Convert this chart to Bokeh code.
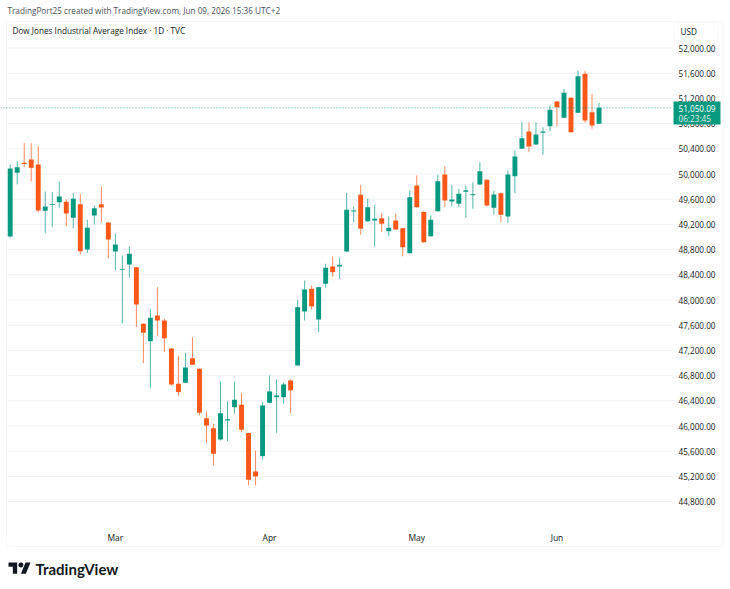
import math
import pandas as pd
from bokeh.plotting import figure
from bokeh.models import (Range1d, LinearAxis, FixedTicker, NumeralTickFormatter,
                          Label, BoxAnnotation, PolyAnnotation, ColumnDataSource)
from bokeh.embed import file_html
from bokeh.resources import INLINE

# ---- daily bars, Dow Jones Industrial Average (TVC) ----
holidays = ["2026-02-16", "2026-04-03", "2026-05-25"]
dates = [d.strftime("%Y-%m-%d") for d in
         pd.bdate_range("2026-02-06", "2026-06-09", freq="C", holidays=holidays)]

opens = [49008, 50019, 50178, 50230, 50151, 49416, 49508, 49553, 49559, 49305,
         49521, 48802, 49342, 49521, 49231, 48770, 48477, 48564, 48521, 47623,
         47347, 47755, 47675, 47231, 46671, 46687, 47077, 46909, 46125, 45966,
         45787, 46088, 46299, 46338, 45887, 45279, 45522, 46369, 46458, 46458,
         46723, 46961, 47818, 48178, 47691, 48258, 48532, 48532, 48770, 49405,
         49670, 49251, 49262, 49299, 49093, 49262, 49140, 48743, 49818, 49397,
         49012, 49410, 49992, 49564, 49527, 49718, 49664, 49834, 49908, 49464,
         49696, 49326, 49965, 50400, 50675, 50469, 50654, 50759, 51151, 50892,
         51210, 50972, 51591, 50981, 50797]
highs = [50151, 50204, 50496, 50489, 50442, 49723, 49712, 49881, 49596, 49696,
         49686, 49274, 49500, 49802, 49240, 49051, 48707, 48850, 48530, 47630,
         47861, 48204, 47702, 47240, 47109, 47163, 47410, 46915, 46231, 46036,
         46707, 46390, 46707, 46528, 45895, 45612, 46379, 46803, 46739, 46687,
         46739, 48004, 48310, 48231, 48210, 48575, 48691, 48670, 49702, 49485,
         49829, 49607, 49512, 49378, 49326, 49369, 49145, 49739, 49977, 49420,
         49342, 49992, 50124, 49829, 49766, 49818, 49870, 50188, 49915, 49739,
         49705, 50056, 50373, 50822, 50822, 50822, 50743, 51087, 51160, 51352,
         51218, 51643, 51632, 51273, 51130]
lows = [48990, 49834, 50108, 49881, 49394, 49061, 49156, 49464, 49172, 49140,
        48723, 48743, 49194, 49226, 48664, 48469, 47628, 48353, 47569, 46998,
        46607, 47426, 47172, 46640, 46485, 46680, 46965, 46168, 45728, 45374,
        45770, 45760, 46195, 45903, 45057, 45057, 45469, 46360, 45893, 46353,
        46204, 46955, 47675, 47845, 47490, 48194, 48374, 48337, 48760, 49235,
        49035, 49245, 48850, 49077, 49013, 49110, 48691, 48735, 49465, 48905,
        49005, 49400, 49473, 49485, 49473, 49305, 49448, 49828, 49490, 49353,
        49235, 49226, 49696, 50395, 50346, 50460, 50305, 50680, 50759, 50885,
        50655, 50965, 50813, 50718, 50790]
closes = [50088, 50108, 50159, 50099, 49421, 49485, 49520, 49643, 49374, 49607,
          48775, 49147, 49458, 49469, 48961, 48882, 48488, 48734, 47929, 47480,
          47718, 47675, 47394, 46657, 46538, 46930, 46974, 46211, 46009, 45560,
          46204, 46109, 46417, 45941, 45147, 45200, 46326, 46549, 46485, 46660,
          46565, 47886, 48167, 47898, 48204, 48512, 48442, 48559, 49432, 49421,
          49131, 49473, 49289, 49210, 49147, 49120, 48839, 49632, 49473, 48918,
          49275, 49886, 49580, 49596, 49686, 49743, 49680, 50045, 49500, 49675,
          49353, 49992, 50278, 50569, 50437, 50627, 50675, 51019, 51060, 51289,
          50664, 51552, 50849, 50770, 51050.09]

price_ticks = list(range(44800, 52001, 400))
last_price = closes[-1]
countdown = "06:23:45"

UP, DOWN = "#089981", "#F9581A"
TEXT = "#131722"
GRID = "#eef0f3"
BORDER = "#e0e3eb"
FONT = "Open Sans"
FS = "8.2px"

W, H = 730, 589
BAR_PX = 7.01            # horizontal spacing of one session
PRICE_PX = 25.2 / 400    # vertical px per index point
X0 = -9.7 / BAR_PX       # session index at the left canvas edge
Y_TOP = 52000 + 47.5 / PRICE_PX   # price at the top canvas edge
CHART_L, CHART_R, CHART_B = 7, 672, 522


def dx(px):
    """canvas x (px) -> session index"""
    return X0 + px / BAR_PX


def dy(py):
    """canvas y (px from top) -> price"""
    return Y_TOP - py / PRICE_PX


def sx(px):
    return px


def sy(py):
    return H - py


idx = list(range(len(dates)))
colors = [UP if c >= o else DOWN for o, c in zip(opens, closes)]
src = ColumnDataSource(dict(x=idx, o=opens, h=highs, l=lows, c=closes,
                            top=[max(o, c) for o, c in zip(opens, closes)],
                            bottom=[min(o, c) for o, c in zip(opens, closes)],
                            color=colors))

p = figure(width=W, height=H, output_backend="svg", toolbar_location=None,
           x_range=Range1d(dx(0), dx(W)), y_range=Range1d(dy(H), dy(0)),
           x_axis_location=None, y_axis_location=None,
           min_border=0)
p.outline_line_color = None
p.background_fill_color = "white"
p.border_fill_color = "white"
p.xgrid.visible = False
p.ygrid.visible = False

# horizontal grid across the chart pane
p.segment(x0=[dx(CHART_L)] * len(price_ticks), x1=[dx(CHART_R)] * len(price_ticks),
          y0=price_ticks, y1=price_ticks, line_color=GRID, line_width=1)

# price scale
yaxis = LinearAxis(ticker=FixedTicker(ticks=price_ticks),
                   formatter=NumeralTickFormatter(format="0,0.00"),
                   fixed_location=dx(CHART_R))
yaxis.axis_line_color = None
yaxis.major_tick_line_color = None
yaxis.minor_tick_line_color = None
yaxis.major_tick_out = 0
yaxis.major_tick_in = 0
yaxis.major_label_standoff = 6
yaxis.major_label_text_font = FONT
yaxis.major_label_text_font_size = FS
yaxis.major_label_text_color = TEXT
p.add_layout(yaxis, "right")

# time scale: first session of each month
month_first = {}
for i, d in enumerate(dates):
    m = d[:7]
    if m not in month_first:
        month_first[m] = i
month_ticks = [i for m, i in month_first.items() if m >= "2026-03"]
xaxis = LinearAxis(ticker=FixedTicker(ticks=month_ticks), fixed_location=dy(CHART_B))
xaxis.major_label_overrides = {i: pd.Timestamp(dates[i]).strftime("%b") for i in month_ticks}
xaxis.axis_line_color = None
xaxis.major_tick_line_color = None
xaxis.minor_tick_line_color = None
xaxis.major_tick_out = 0
xaxis.major_tick_in = 0
xaxis.major_label_standoff = 9
xaxis.major_label_text_font = FONT
xaxis.major_label_text_font_size = "8.5px"
xaxis.major_label_text_color = TEXT
p.add_layout(xaxis, "below")

# candles
p.segment(x0="x", x1="x", y0="l", y1="h", color="color", line_alpha=0.7,
          line_width=1, source=src)
p.vbar(x="x", width=0.7, top="top", bottom="bottom", fill_color="color",
       line_color=None, source=src)

# last price line
p.segment(x0=[dx(0)], x1=[dx(CHART_R)], y0=[last_price], y1=[last_price],
          line_color=UP, line_alpha=0.8, line_dash="1 2", line_width=1)

# panel frame
p.add_layout(BoxAnnotation(left=sx(6), right=sx(723), top=sy(21), bottom=sy(546),
                           left_units="screen", right_units="screen",
                           top_units="screen", bottom_units="screen",
                           fill_alpha=0, line_color=BORDER, line_width=1,
                           border_radius=4, level="underlay"))

# header and legend line
p.add_layout(Label(x=sx(7), y=sy(10), x_units="screen", y_units="screen",
                   text="TradingPort25 created with TradingView.com, Jun 09, 2026 15:36 UTC+2",
                   text_font=FONT, text_font_size=FS, text_color="#4a4e59",
                   text_baseline="middle"))
p.add_layout(Label(x=sx(12), y=sy(30), x_units="screen", y_units="screen",
                   text="Dow Jones Industrial Average Index · 1D · TVC",
                   text_font=FONT, text_font_size=FS, text_color=TEXT,
                   text_baseline="middle"))

# currency box
p.add_layout(BoxAnnotation(left=sx(673), right=sx(718), top=sy(22), bottom=sy(40),
                           left_units="screen", right_units="screen",
                           top_units="screen", bottom_units="screen",
                           fill_color="white", fill_alpha=1, line_color=BORDER,
                           border_radius=3))
p.add_layout(Label(x=sx(680), y=sy(31), x_units="screen", y_units="screen",
                   text="USD", text_font=FONT, text_font_size=FS,
                   text_color=TEXT, text_baseline="middle"))

# last price tag
p.add_layout(BoxAnnotation(left=sx(673), right=sx(720), top=sy(101), bottom=sy(124),
                           left_units="screen", right_units="screen",
                           top_units="screen", bottom_units="screen",
                           fill_color=UP, fill_alpha=1, line_color=None))
p.add_layout(Label(x=sx(678), y=sy(107.5), x_units="screen", y_units="screen",
                   text=f"{last_price:,.2f}", text_font=FONT,
                   text_font_size=FS, text_color="white", text_baseline="middle"))
p.add_layout(Label(x=sx(678), y=sy(118), x_units="screen", y_units="screen",
                   text=countdown, text_font=FONT,
                   text_font_size=FS, text_color="#d8f0ea", text_baseline="middle"))

# TradingView logo mark
k, ox, oy = 0.62, 8, 562


def mark(pts):
    return [sx(ox + k * a) for a, b in pts], [sy(oy + k * (b - 4)) for a, b in pts]


for shape in ([(0, 4), (14, 4), (14, 22), (7, 22), (7, 11), (0, 11)],
              [(20, 22), (27.5, 4), (35.5, 4), (28, 22)],
              [(20 + 4 * math.cos(t * math.pi / 10), 8 + 4 * math.sin(t * math.pi / 10))
               for t in range(20)]):
    xs, ys = mark(shape)
    p.add_layout(PolyAnnotation(xs=xs, ys=ys, xs_units="screen", ys_units="screen",
                                fill_color=TEXT, fill_alpha=1, line_color=None))
p.add_layout(Label(x=sx(35), y=sy(568), x_units="screen", y_units="screen",
                   text="TradingView", text_font="Lato", text_font_style="bold",
                   text_font_size="15px", text_color=TEXT, text_baseline="middle"))

open("out.html", "w").write(file_html(p, INLINE))
